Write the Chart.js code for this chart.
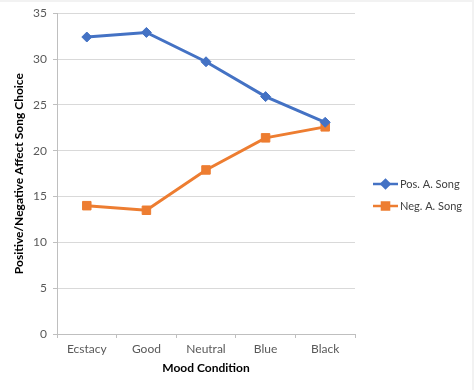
<!DOCTYPE html>
<html>
<head>
<meta charset="utf-8">
<script src="https://cdn.jsdelivr.net/npm/chart.js@4/dist/chart.umd.min.js"></script>
<style>
  html, body { margin: 0; padding: 0; background: #fff; }
  #wrap { width: 474px; height: 390px; position: relative; }
  #wrap::after {
    content: ""; position: absolute; left: 0; top: 0; right: 0; bottom: 0;
    border-top: 2px solid #f2f2f2; border-right: 2px solid #f2f2f2;
    pointer-events: none;
  }
</style>
</head>
<body>
<div id="wrap"><canvas id="moodChart"></canvas></div>
<script>
const moods = ["Ecstacy", "Good", "Neutral", "Blue", "Black"];
const posSong = [32.4, 32.9, 29.7, 25.9, 23.1];
const negSong = [14.0, 13.5, 17.9, 21.4, 22.6];
const yTicks = [0, 5, 10, 15, 20, 25, 30, 35];

const BLUE = "#4472C4";
const ORANGE = "#ED7D31";
const FONT = "Lato, 'Open Sans', sans-serif";

// legend drawn at the right like the excel one: a line with marker through it
const sideLegend = {
    id: "sideLegend",
    afterDraw(chart) {
        const ctx = chart.ctx;
        const x0 = 373, x1 = 398;
        let y = 184;
        chart.data.datasets.forEach(ds => {
            ctx.save();
            ctx.strokeStyle = ds.borderColor;
            ctx.lineWidth = 2.5;
            ctx.beginPath();
            ctx.moveTo(x0, y);
            ctx.lineTo(x1, y);
            ctx.stroke();
            Chart.helpers.drawPoint(ctx, {
                pointStyle: ds.pointStyle,
                radius: ds.pointRadius - 1,
                borderWidth: 1
            }, (x0 + x1) / 2, y);
            ctx.fillStyle = ds.borderColor;
            ctx.fill();
            ctx.fillStyle = "#404040";
            ctx.font = "11px " + FONT;
            ctx.textBaseline = "middle";
            ctx.fillText(ds.label, x1 + 2, y);
            ctx.restore();
            y += 22;
        });
    }
};

new Chart(document.getElementById("moodChart"), {
    type: "line",
    data: {
        labels: moods,
        datasets: [
            {
                label: "Pos. A. Song",
                data: posSong,
                borderColor: BLUE,
                backgroundColor: BLUE,
                borderWidth: 3,
                pointStyle: "rectRot",
                pointRadius: 5,
                pointBorderWidth: 1,
                tension: 0
            },
            {
                label: "Neg. A. Song",
                data: negSong,
                borderColor: ORANGE,
                backgroundColor: ORANGE,
                borderWidth: 3,
                pointStyle: "rect",
                pointRadius: 6,
                pointBorderWidth: 1,
                tension: 0
            }
        ]
    },
    options: {
        responsive: true,
        maintainAspectRatio: false,
        animation: false,
        layout: { padding: { left: 8, right: 119, top: 13, bottom: 10 } },
        plugins: {
            legend: { display: false },
            tooltip: { enabled: false }
        },
        scales: {
            x: {
                offset: true,
                grid: { display: true, drawOnChartArea: false, offset: true, tickLength: 4, color: "#bfbfbf" },
                border: { color: "#bfbfbf" },
                ticks: { color: "#595959", font: { family: FONT, size: 12 }, padding: 4 },
                title: {
                    display: true,
                    text: "Mood Condition",
                    color: "#000",
                    font: { family: FONT, size: 12, weight: "bold" },
                    padding: { top: 2, bottom: 5 }
                },
                afterFit(scale) { scale.height = 46; }
            },
            y: {
                min: 0,
                max: 35,
                afterBuildTicks(scale) { scale.ticks = yTicks.map(v => ({ value: v })); },
                grid: { color: "#d9d9d9", tickLength: 4, tickColor: "#bfbfbf" },
                border: { color: "#bfbfbf" },
                ticks: { color: "#595959", font: { family: FONT, size: 12 }, padding: 6 },
                title: {
                    display: true,
                    text: "Positive/Negative Affect Song Choice",
                    color: "#000",
                    font: { family: FONT, size: 12, weight: "bold" },
                    padding: { top: 4, bottom: 4 }
                },
                afterFit(scale) { scale.width = 49; }
            }
        }
    },
    plugins: [sideLegend]
});
</script>
</body>
</html>
